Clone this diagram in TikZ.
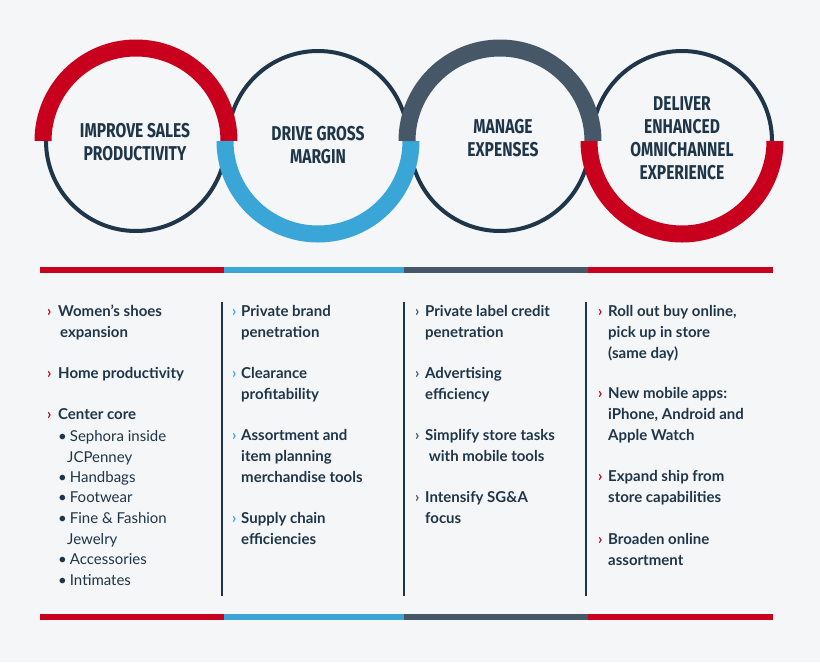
\documentclass[tikz,border=0pt]{standalone}
\usepackage{fontspec}
\setmainfont{Lato}
\newfontfamily\headfont[FakeStretch=0.78]{Fira Sans}
\definecolor{jred}{HTML}{C8001E}
\definecolor{jblue}{HTML}{3AA6D8}
\definecolor{jgray}{HTML}{465868}
\definecolor{jnavy}{HTML}{1F364A}
\definecolor{jbg}{HTML}{F5F6F7}
\begin{document}
\begin{tikzpicture}[x=1pt,y=-1pt,
  ring/.style={draw=jnavy,line width=4pt},
  band/.style={line width=17pt},
  head/.style={font=\headfont\bfseries\fontsize{20}{23}\selectfont,text=jnavy,align=center},
  ln/.style={anchor=base west,inner sep=0pt,font=\bfseries\fontsize{15}{18}\selectfont,text=jnavy},
  sub/.style={anchor=base west,inner sep=0pt,font=\fontsize{15}{18}\selectfont,text=jnavy},
  chev/.style={anchor=base west,inner sep=0pt,font=\bfseries\fontsize{15}{18}\selectfont},
  divider/.style={draw=jnavy,line width=2pt},
  bar/.style={line width=6pt}]
\fill[jbg] (0,0) rectangle (820,662);
\useasboundingbox (0,0) rectangle (820,662);
% circles
\foreach \cx/\nm in {136/c1,318/c2,500/c3,682/c4}{
  \coordinate (\nm) at (\cx,141);
  \draw[ring] (\nm) circle (90);
}
\draw[band,draw=jred] ([xshift=-93pt]c1) arc[start angle=180,end angle=360,radius=93];
\draw[band,draw=jblue] ([xshift=-93pt]c2) arc[start angle=180,end angle=0,radius=93];
\draw[band,draw=jgray] ([xshift=-93pt]c3) arc[start angle=180,end angle=360,radius=93];
\draw[band,draw=jred] ([xshift=-93pt]c4) arc[start angle=180,end angle=0,radius=93];
\node[head] (h1) at (135,142) {IMPROVE SALES\\PRODUCTIVITY};
\node[head] (h2) at (318,145) {DRIVE GROSS\\MARGIN};
\node[head] (h3) at (503,138) {MANAGE\\EXPENSES};
\node[head] (h4) at (682,138) {DELIVER\\ENHANCED\\OMNICHANNEL\\EXPERIENCE};
% bars
\foreach \y/\n in {270/t,617/b}{
  \coordinate (\n0) at (40,\y); \coordinate (\n1) at (224,\y);
  \coordinate (\n2) at (404,\y); \coordinate (\n3) at (588,\y); \coordinate (\n4) at (773,\y);
  \draw[bar,draw=jred] (\n0) -- (\n1);
  \draw[bar,draw=jblue] (\n1) -- (\n2);
  \draw[bar,draw=jgray] (\n2) -- (\n3);
  \draw[bar,draw=jred] (\n3) -- (\n4);
}
% dividers
\foreach \x/\n in {222/d1,404/d2,586/d3}{
  \coordinate (\n a) at (\x,302); \coordinate (\n b) at (\x,596);
  \draw[divider] (\n a) -- (\n b);
}
% column 1
\foreach \y/\t in {316/{Women’s shoes},378/{Home productivity},419/{Center core}}
  \node[chev,text=jred] at (47,\y) {›};
\node[ln] at (58,316) {Women’s shoes};
\node[ln] at (60,337) {expansion};
\node[ln] at (58,378) {Home productivity};
\node[ln] at (58,419) {Center core};
\foreach \y/\t in {441/{Sephora inside},482/Handbags,502/Footwear,523/{Fine \& Fashion},564/Accessories,585/Intimates}
  \node[sub] at (58,\y) {•\hspace{3pt}\t};
\node[sub] at (67,462) {JCPenney};
\node[sub] at (67,544) {Jewelry};
% column 2
\foreach \y in {316,378,440,523} \node[chev,text=jblue] at (232,\y) {›};
\foreach \y/\t in {316/{Private brand},337/penetration,378/Clearance,399/profitability,440/{Assortment and},461/{item planning},482/{merchandise tools},523/{Supply chain},544/efficiencies}
  \node[ln] at (241,\y) {\t};
% column 3
\foreach \y in {316,378,440,502} \node[chev,text=jgray] at (415,\y) {›};
\foreach \y/\t in {316/{Private label credit},337/penetration,378/Advertising,399/efficiency,440/{Simplify store tasks},461/{\ with mobile tools},502/{Intensify SG\&A},523/focus}
  \node[ln] at (425,\y) {\t};
% column 4
\foreach \y in {316,398,481,544} \node[chev,text=jred] at (598,\y) {›};
\foreach \y/\t in {316/{Roll out buy online,},337/{pick up in store},358/{(same day)},398/{New mobile apps:},419/{iPhone, Android and},440/{Apple Watch},481/{Expand ship from},502/{store capabilities},544/{Broaden online},565/assortment}
  \node[ln] at (608,\y) {\t};
\end{tikzpicture}
\end{document}
